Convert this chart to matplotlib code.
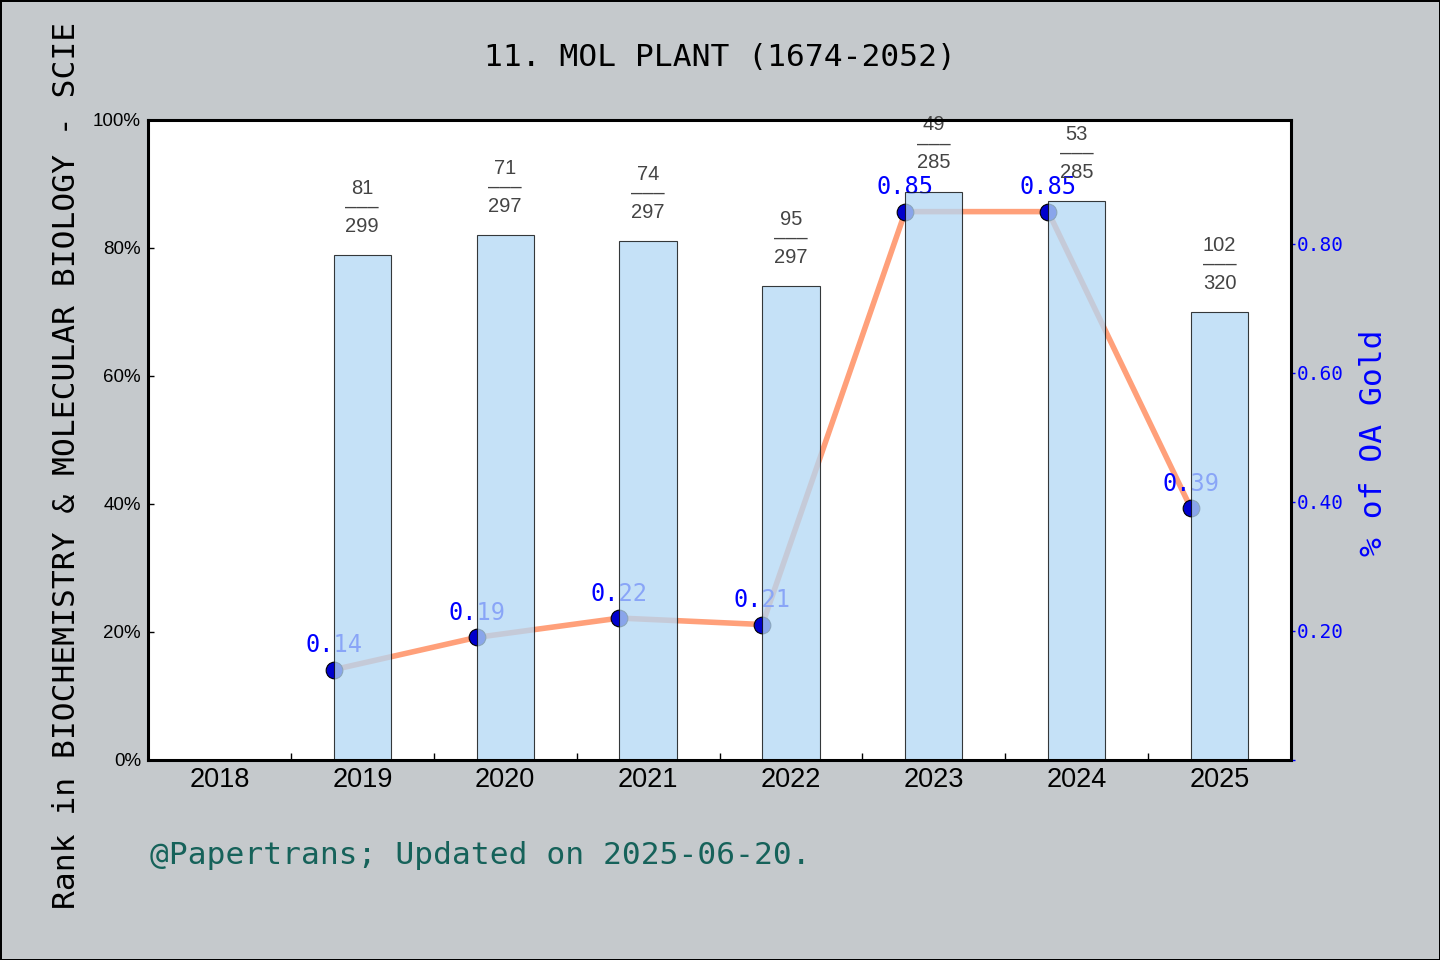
import matplotlib
matplotlib.use('Agg')
import matplotlib.pyplot as plt
import numpy as np

# chart data
years = [2018, 2019, 2020, 2021, 2022, 2023, 2024, 2025]
bar_years = [2019, 2020, 2021, 2022, 2023, 2024, 2025]
rank_pct = [78.9, 82.0, 81.1, 74.1, 88.8, 87.3, 70.0]
ranks = [81, 71, 74, 95, 49, 53, 102]
totals = [299, 297, 297, 297, 285, 285, 320]
oa_gold = [0.14, 0.19, 0.22, 0.21, 0.85, 0.85, 0.39]

left_ticks = [0, 20, 40, 60, 80, 100]
left_labels = ['0%', '20%', '40%', '60%', '80%', '100%']
right_ticks = [0, 0.2, 0.4, 0.6, 0.8]
right_labels = ['', '0.20', '0.40', '0.60', '0.80']

title = '11. MOL PLANT (1674-2052)'
ylab = 'Rank in BIOCHEMISTRY & MOLECULAR BIOLOGY - SCIE'
ylab2 = '% of OA Gold'
footer = '@Papertrans; Updated on 2025-06-20.'

mono = 'DejaVu Sans Mono'
sans = 'Liberation Sans'
bg = '#c5c9cc'

fig = plt.figure(figsize=(14.4, 9.6), dpi=100)
fig.patch.set_facecolor(bg)
fig.patch.set_edgecolor('black')
fig.patch.set_linewidth(2)

ax = fig.add_axes([148/1440, 1 - 760/960, (1291-148)/1440, (760-120)/960])
ax2 = ax.twinx()
ax.set_zorder(2)
ax2.set_zorder(1)
ax.patch.set_visible(False)
ax2.patch.set_visible(True)
ax2.patch.set_facecolor('white')

xpos = np.arange(len(years))
bx = np.array([years.index(y) for y in bar_years]) - 0.2

# line for OA share (behind bars)
ax2.plot(bx, oa_gold, color='#ffa07a', lw=4, zorder=2)
ax2.plot(bx, oa_gold, 'o', ms=12, mfc='#0000cd', mec='black', mew=0.8, zorder=3)
for x, v in zip(bx, oa_gold):
    ax2.annotate(f'{v:.2f}', (x, v), xytext=(0, 9), textcoords='offset points',
                 ha='center', va='bottom', color='blue', fontsize=17, family=mono)
ax2.set_ylim(0, 0.992)
ax2.set_yticks(right_ticks)
ax2.set_yticklabels(right_labels)
ax2.tick_params(axis='y', direction='out', length=3, width=1, colors='blue', pad=1,
                labelsize=14)
for lbl in ax2.get_yticklabels():
    lbl.set_family(mono)

# bars for rank percentile
ax.bar(bx, rank_pct, width=0.4, align='edge', color='#b4d8f5', alpha=0.77,
       edgecolor='black', linewidth=0.8, zorder=1)
for x, h, r, t in zip(bx, rank_pct, ranks, totals):
    ax.text(x + 0.2, h + 3, f'{r}\n\u2013\u2013\u2013\n{t}', ha='center', va='bottom',
            fontsize=14.5, color='#444444', family=sans, linespacing=1.0, zorder=2)

ax.set_xlim(-0.5, 7.5)
ax.set_ylim(0, 100)
ax.set_xticks(xpos)
ax.set_xticklabels([str(y) for y in years], fontsize=19.5, family=sans)
ax.set_xticks(xpos[:-1] + 0.5, minor=True)
ax.tick_params(axis='x', which='major', length=0, pad=5)
ax.tick_params(axis='x', which='minor', direction='in', length=5, width=1)
ax.set_yticks(left_ticks)
ax.set_yticklabels(left_labels, fontsize=13.5, family=sans)
ax.tick_params(axis='y', direction='in', length=4, width=1, pad=5)

for s in ax.spines.values():
    s.set_linewidth(2.2)
for s in ax2.spines.values():
    s.set_visible(False)

fig.text(720/1440, 1 - 57/960, title, ha='center', va='center', fontsize=22.5,
         family=mono)
fig.text(67/1440, 1 - 465/960, ylab, rotation=90, ha='center', va='center',
         fontsize=22.5, family=mono)
fig.text(1373/1440, 1 - 443/960, ylab2, rotation=90, ha='center', va='center',
         fontsize=22.5, family=mono, color='blue')
fig.text(150/1440, 1 - 855/960, footer, ha='left', va='center', fontsize=22.5,
         family=mono, color='#16625a')

fig.savefig('out.png', dpi=100, facecolor=bg)
